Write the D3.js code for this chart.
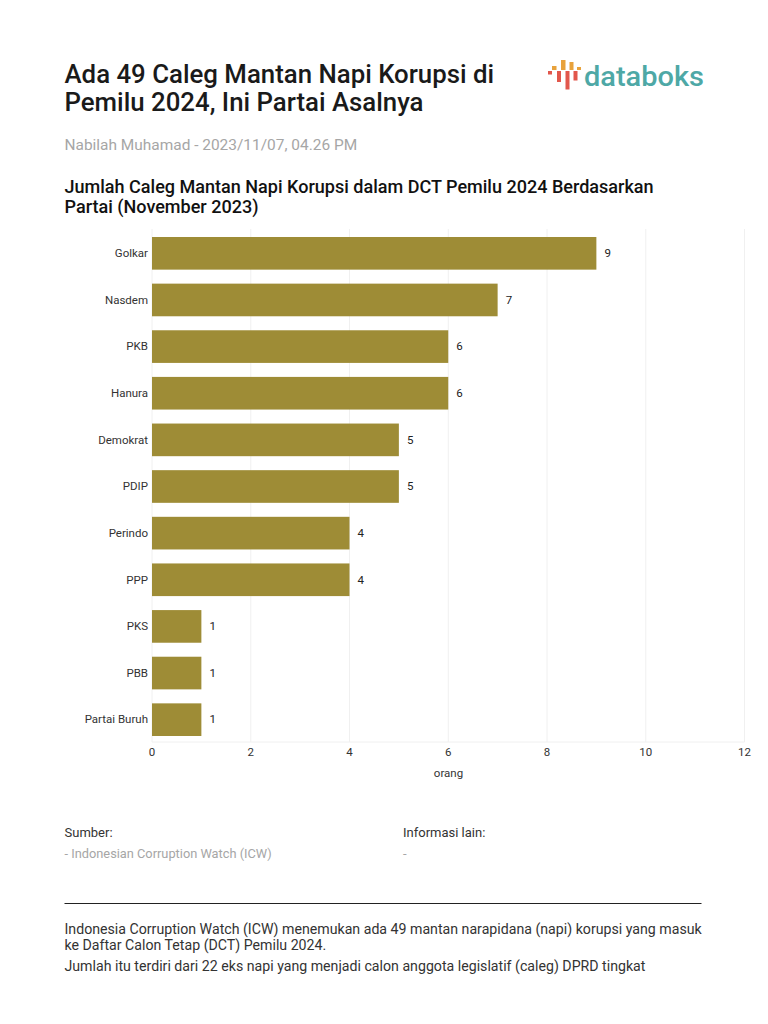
<!DOCTYPE html>
<html><head><meta charset="utf-8">
<script src="https://cdn.jsdelivr.net/npm/d3@7/dist/d3.min.js"></script>
<style>html,body{margin:0;padding:0;background:#fff}svg{display:block;font-family:Roboto,sans-serif}</style>
</head><body><svg id="c" width="768" height="1024"></svg>
<script>
const categories=["Golkar","Nasdem","PKB","Hanura","Demokrat","PDIP","Perindo","PPP","PKS","PBB","Partai Buruh"];
const values=[9,7,6,6,5,5,4,4,1,1,1];
const xTicks=[0,2,4,6,8,10,12];
const titleLines=["Ada 49 Caleg Mantan Napi Korupsi di","Pemilu 2024, Ini Partai Asalnya"];
const subtitleLines=["Jumlah Caleg Mantan Napi Korupsi dalam DCT Pemilu 2024 Berdasarkan","Partai (November 2023)"];
const bodyLines=[["Indonesia Corruption Watch (ICW) menemukan ada 49 mantan narapidana (napi) korupsi yang masuk",934],["ke Daftar Calon Tetap (DCT) Pemilu 2024.",950],["Jumlah itu terdiri dari 22 eks napi yang menjadi calon anggota legislatif (caleg) DPRD tingkat",971]];
const svg=d3.select("#c");
const txt=(s,x,y,size,fill,weight,anchor)=>svg.append("text").attr("x",x).attr("y",y).attr("font-size",size).attr("fill",fill).attr("font-weight",weight||400).attr("text-anchor",anchor||"start").text(s);
titleLines.forEach((t,i)=>txt(t,64.5,83+i*28,25.8,"#1a1a1a",500));
txt("Nabilah Muhamad - 2023/11/07, 04.26 PM",64.5,150,15.45,"#a6a6a6");
subtitleLines.forEach((t,i)=>txt(t,64.5,193+i*20,18.05,"#111",500));
// logo
const logo=svg.append("g");
[[548,71,4,3.5,"#e2574c"],[552,66,4.5,4,"#e8a23c"],[557,71,4,11,"#e2574c"],[561,60,4.5,10,"#e8a23c"],[565.5,71,4,18.5,"#e2574c"],[569.5,62,4,8,"#e8a23c"],[573.5,71,4,9.5,"#e2574c"],[577,67,4,3,"#e8a23c"]].forEach(d=>logo.append("rect").attr("x",d[0]).attr("y",d[1]).attr("width",d[2]).attr("height",d[3]).attr("fill",d[4]));
txt("databoks",584,86,27.5,"#4ea8a6",500).attr("textLength",120).attr("lengthAdjust","spacingAndGlyphs");
// chart
const x=d3.scaleLinear().domain([0,12]).range([152,744.5]);
const y=d3.scaleBand().domain(categories).range([230,743]).paddingInner(0.3).paddingOuter(0.15);
const g=svg.append("g");
g.selectAll("line.grid").data(xTicks).join("line").attr("class","grid").attr("x1",d=>x(d)).attr("x2",d=>x(d)).attr("y1",229).attr("y2",742).attr("stroke","#f0f0f0").attr("stroke-width",1);
g.append("line").attr("x1",152).attr("x2",744.5).attr("y1",742).attr("y2",742).attr("stroke","#f0f0f0");
g.selectAll("rect").data(values).join("rect").attr("x",x(0)).attr("y",(d,i)=>y(categories[i])).attr("width",d=>x(d)-x(0)).attr("height",y.bandwidth()).attr("fill","#9e8c36");
g.selectAll("text.val").data(values).join("text").attr("class","val").attr("x",d=>x(d)+8).attr("y",(d,i)=>y(categories[i])+y.bandwidth()/2+3.8).attr("font-size",11.5).attr("fill","#222").text(d=>d);
g.selectAll("text.cat").data(categories).join("text").attr("class","cat").attr("x",148).attr("y",d=>y(d)+y.bandwidth()/2+3.8).attr("text-anchor","end").attr("font-size",11.5).attr("fill","#333").text(d=>d);
g.selectAll("text.tick").data(xTicks).join("text").attr("class","tick").attr("x",d=>x(d)).attr("y",756).attr("text-anchor","middle").attr("font-size",11.5).attr("fill","#333").text(d=>d);
txt("orang",448.5,777,11.5,"#333",400,"middle");
// footer
txt("Sumber:",64.5,837,13,"#333");
txt("- Indonesian Corruption Watch (ICW)",64.5,858,12.8,"#a6a6a6");
txt("Informasi lain:",403,837,13,"#333");
txt("-",403,858,13,"#a6a6a6");
svg.append("line").attr("x1",64.5).attr("x2",701.5).attr("y1",903.5).attr("y2",903.5).attr("stroke","#222");
bodyLines.forEach(d=>txt(d[0],64.5,d[1],14.17,"#333"));
</script></body></html>
